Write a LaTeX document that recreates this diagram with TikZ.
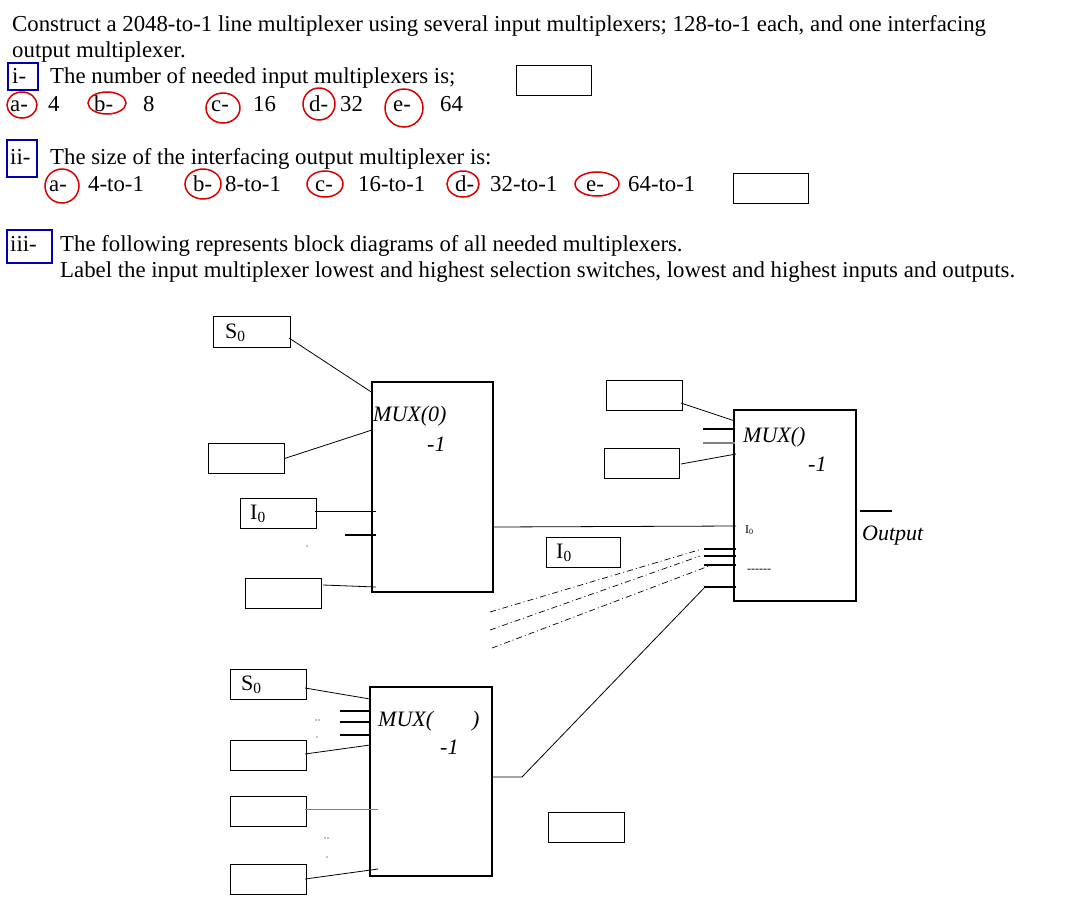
\documentclass[tikz,border=0pt]{standalone}
\usepackage{fontspec}
\setmainfont{Liberation Serif}
\begin{document}
\begin{tikzpicture}[x=1pt,y=-1pt,
  txt/.style={anchor=base west,inner sep=0pt,font=\fontsize{22.8}{26}\selectfont},
  blu/.style={draw=blue!70!black,line width=1.6pt},
  red/.style={draw=red!85!black,line width=1.5pt},
  ebox/.style={draw,line width=0.8pt},
  mux/.style={draw,line width=1.4pt},
  w/.style={line width=0.8pt},
  tk/.style={line width=1.4pt},
  it/.style={anchor=base west,inner sep=0pt,font=\fontsize{22}{24}\selectfont\itshape},
  dd/.style={line width=0.7pt,dash pattern=on 6pt off 3pt on 1pt off 3pt}]
\useasboundingbox (0,0) rectangle (1068,911);
\fill[white] (0,0) rectangle (1068,911);
% text
\node[txt] (t1) at (12,31) {Construct a 2048-to-1 line multiplexer using several input multiplexers; 128-to-1 each, and one interfacing};
\node[txt] (t2) at (12,57) {output multiplexer.};
\node[txt] (t3) at (12,83) {i-};
\node[txt] (t4) at (50,83) {The number of needed input multiplexers is;};
\foreach \x/\s in {10/a-,48/4,94/b-,143/8,211/c-,253/16,309/d-,340/32,393/e-,440/64}
  \node[txt] at (\x,111) {\s};
\node[txt] (t5) at (10,164) {ii-};
\node[txt] (t6) at (50,164) {The size of the interfacing output multiplexer is:};
\foreach \x/\s in {49/a-,88/4-to-1,193/b-,225/8-to-1,315/c-,358/16-to-1,455/d-,490/32-to-1,586/e-,628/64-to-1}
  \node[txt] at (\x,191) {\s};
\node[txt] (t7) at (10,251) {iii-};
\node[txt] (t8) at (60,251) {The following represents block diagrams of all needed multiplexers.};
\node[txt] (t9) at (60,277) {Label the input multiplexer lowest and highest selection switches, lowest and highest inputs and outputs.};
% blue boxes
\draw[blu] (8,63) rectangle (38,90);
\draw[blu] (7,140) rectangle (37,177);
\draw[blu] (7,230) rectangle (52,263);
% red ellipses
\foreach \x/\y/\a/\b in {22/105/15/13,107/103/19/11,223/108/17/15,319/104/16/16,404/108/19/19,
  62/186/17/17,203/184/18/15,325/184/18/13,463/184/16/13,597/184/22/12}
  \draw[red] (\x,\y) ellipse [x radius=\a, y radius=\b];
\draw[ebox] (516,65) rectangle (591,95);
\draw[ebox] (733,173) rectangle (808,203);
% MUX(0)
\node[mux,minimum width=121pt,minimum height=210pt,inner sep=0pt] (m0) at (432.5,487) {};
\node[it] (m0t) at (373,421) {MUX(0)};
\node[it] (m0n) at (427,451) {-1};
\node[ebox,minimum width=77pt,minimum height=31pt,anchor=north west] (s0a) at (213,316) {};
\node[anchor=west,inner sep=0pt,font=\fontsize{22}{24}\selectfont] at (225,333) {S\textsubscript{0}};
\draw[w] (289,338) -- (m0.north west|-0,392);
\node[ebox,minimum width=76pt,minimum height=30pt,anchor=north west] (ea) at (208,443) {};
\draw[w] (ea.east) -- (372,430);
\node[ebox,minimum width=76pt,minimum height=30pt,anchor=north west] (i0a) at (240,498) {};
\node[anchor=west,inner sep=0pt,font=\fontsize{22}{24}\selectfont] at (250,514) {I\textsubscript{0}};
\draw[w] (315,511) -- (376,511);
\draw[tk] (345,535) -- (376,535);
\fill (307,546) circle (0.7);
\node[ebox,minimum width=76pt,minimum height=30pt,anchor=north west] (eb) at (245,578) {};
\draw[w] (323,585) -- (376,587);
% right MUX
\node[mux,minimum width=122pt,minimum height=191pt,inner sep=0pt] (mr) at (795,505.5) {};
\node[it] (mrt) at (743,442) {MUX()};
\node[it] (mrn) at (808,471) {-1};
\node[anchor=base west,inner sep=0pt,font=\fontsize{12}{12}\selectfont] at (745,533) {I\textsubscript{0}};
\node[anchor=base west,inner sep=0pt,font=\fontsize{12}{12}\selectfont] at (747,572) {-{}-{}-{}-{}-{}-};
\draw[tk] (860,511) -- (892,511);
\node[it] (outp) at (862,540) {Output};
\draw[w] (m0.east|-0,527) -- (736,526);
\node[ebox,minimum width=76pt,minimum height=30pt,anchor=north west] (ec) at (606,380) {};
\draw[w] (681,403) -- (735,421);
\draw[tk] (703,429) -- (735,429);
\draw[tk,gray] (703,443) -- (735,443);
\node[ebox,minimum width=75pt,minimum height=30pt,anchor=north west] (ed) at (604,448) {};
\draw[w] (681,464) -- (736,454);
\node[ebox,minimum width=74pt,minimum height=30pt,anchor=north west] (i0b) at (546,537) {};
\node[anchor=west,inner sep=0pt,font=\fontsize{22}{24}\selectfont] at (556,553) {I\textsubscript{0}};
\foreach \y in {549,556,565,587} \draw[tk] (704,\y) -- (736,\y);
\draw[dd] (490,612) -- (702,549);
\draw[dd] (490,630) -- (700,556);
\draw[dd] (492,648) -- (709,566);
% bottom MUX
\node[mux,minimum width=122pt,minimum height=189pt,inner sep=0pt] (mb) at (431,781.5) {};
\node[it] (mbt) at (378,726) {MUX(};
\node[it] (mbt2) at (472,726) {)};
\node[it] (mbn) at (440,754) {-1};
\node[ebox,minimum width=76pt,minimum height=30pt,anchor=north west] (s0b) at (230,669) {};
\node[anchor=west,inner sep=0pt,font=\fontsize{22}{24}\selectfont] at (241,685) {S\textsubscript{0}};
\draw[w] (305,688) -- (370,699);
\foreach \y in {711,722,735} \draw[tk] (340,\y) -- (370,\y);
\fill (316,720) circle (0.6); \fill (319,720) circle (0.6); \fill (317,737) circle (0.6);
\node[ebox,minimum width=76pt,minimum height=30pt,anchor=north west] (ee) at (230,740) {};
\draw[w] (305,754) -- (370,745);
\node[ebox,minimum width=76pt,minimum height=30pt,anchor=north west] (ef) at (230,796) {};
\draw[w,gray] (305,809) -- (378,809);
\fill (325,838) circle (0.6); \fill (328,838) circle (0.6); \fill (327,857) circle (0.6);
\node[ebox,minimum width=76pt,minimum height=30pt,anchor=north west] (eg) at (230,864) {};
\draw[w] (305,879) -- (378,869);
\draw[w] (mb.east|-0,777) -- (522,777) -- (706,586);
\node[ebox,minimum width=76pt,minimum height=30pt,anchor=north west] (eh) at (548,812) {};
\end{tikzpicture}
\end{document}
